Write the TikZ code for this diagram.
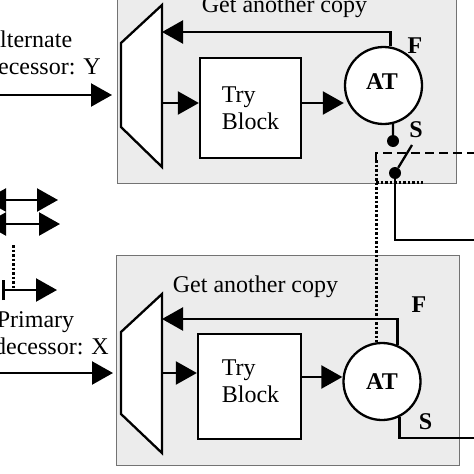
\documentclass[tikz,border=0pt]{standalone}
\usepackage{fontspec}
\setmainfont{Liberation Serif}
\usetikzlibrary{arrows.meta,calc}
\begin{document}
\begin{tikzpicture}[x=1pt,y=-1pt,
 txt/.style={font=\fontsize{24}{27}\selectfont, inner sep=0pt},
 bl/.style={font=\fontsize{24}{27}\selectfont\bfseries, inner sep=0pt},
 ln/.style={line width=2.3pt},
 bigtip/.tip={Triangle[length=21pt,width=23pt]},
 arr/.style={ln, -bigtip},
 grp/.style={fill=gray!15, draw=black!55, line width=1pt},
 trybox/.style={draw, line width=2.3pt, fill=white, inner sep=0pt},
 atc/.style={circle, draw, line width=2.3pt, fill=white, minimum size=77pt, inner sep=0pt},
 dot/.style={circle, fill=black, minimum size=12pt, inner sep=0pt},
 dottedl/.style={line width=3pt, dash pattern=on 2.5pt off 2pt},
 dashedl/.style={line width=2.3pt, dash pattern=on 9pt off 5pt},
]
\useasboundingbox (0,0) rectangle (474,474);

% group boxes
\path[grp] (117,-5) rectangle (456,183);
\path[grp] (116,255) rectangle (459,465);

% left labels
\node[txt, align=center] (lblY) at (27.5,52.5) {Alternate\\Predecessor: Y};
\node[txt, align=center] (lblX) at (35.5,333) {Primary\\Predecessor: X};

% group captions
\node[txt, anchor=base] (cap1) at (284.5,12) {Get another copy};
\node[txt, anchor=base] (cap2) at (255.5,292) {Get another copy};

% multiplexers
\draw[ln, fill=white] (121,43) -- (162,5) -- (162,167) -- (121,127) -- cycle;
\draw[ln, fill=white] (121,332) -- (162,294) -- (162,453) -- (121,414) -- cycle;
\coordinate (m1o) at (162,103);
\coordinate (m2o) at (162,373);
\coordinate (fb1) at (162,32);
\coordinate (fb2) at (162,319);
\coordinate (inY) at (-2,95);
\coordinate (m1in) at (112,95);
\coordinate (inX) at (-2,373);
\coordinate (m2in) at (113,373);

% try blocks
\node[trybox, minimum width=101pt, minimum height=100pt] (tb1) at (250.5,108) {};
\node[txt, align=left] (tt1) at (250.5,108) {Try\\Block};
\node[trybox, minimum width=103pt, minimum height=105pt] (tb2) at (249.5,386.5) {};
\node[txt, align=left] (tt2) at (250.5,381) {Try\\Block};

% acceptance tests
\node[atc] (at1) at (383.5,85.5) {};
\node[bl] (atl1) at (382,82) {AT};
\node[atc] (at2) at (382,381.5) {};
\node[bl] (atl2) at (382,382) {AT};

% F / S labels
\node[bl, anchor=base] (f1) at (415,53) {F};
\node[bl, anchor=base] (s1) at (416,137) {S};
\node[bl, anchor=base] (f2) at (419,312) {F};
\node[bl, anchor=base] (s2) at (425.5,429) {S};

% inputs
\draw[arr] (inY) -- (m1in);
\draw[arr] (inX) -- (m2in);

% mux -> try -> AT
\draw[arr] (m1o) -- (m1o -| tb1.west);
\draw[arr] (m1o -| tb1.east) -- (m1o -| at1.west);
\draw[arr] (m2o) -- (m2o -| tb2.west);
\draw[arr] ($(m2o -| tb2.east)+(0,4)$) -- ($(m2o -| at2.west)+(0,4)$);

% feedback
\draw[arr] (at1.80) |- (fb1);
\draw[arr] (at2.67) |- (fb2);

% switch
\node[dot] (d1) at (393,141) {};
\node[dot] (d2) at (395,173) {};
\coordinate (sw) at (412,145);
\coordinate (out1) at (476,240);
\coordinate (out2) at (476,438);
\draw[ln] (at1.-76) -- (d1);
\draw[ln] (d2) -- (sw);
\draw[ln] (d2) |- (out1);
\draw[ln] (at2.-64) |- (out2);

% dashed / dotted
\coordinate (dc) at (376,153);
\coordinate (dv) at (376,160);
\coordinate (de) at (476,153);
\coordinate (h1) at (376,182);
\coordinate (h2) at (423,182);
\draw[dashedl] (dv) -- (dc) -- (de);
\draw[dottedl] (dv) -- (dv |- at2.north);
\draw[dottedl] (h1) -- (h2);

% left arrows
\coordinate (la1) at (-15,200);
\coordinate (lb1) at (58,200);
\coordinate (la2) at (-15,224);
\coordinate (lb2) at (60,224);
\coordinate (la3) at (1.5,290);
\coordinate (lb3) at (57,290);
\coordinate (v3a) at (13,245);
\coordinate (v3b) at (13,289);
\draw[ln, bigtip-bigtip] (la1) -- (lb1);
\draw[ln, bigtip-bigtip] (la2) -- (lb2);
\draw[ln, {Bar[width=20pt,line width=3pt]}-bigtip] (la3) -- (lb3);
\draw[dottedl] (v3a) -- (v3b);
\end{tikzpicture}
\end{document}
